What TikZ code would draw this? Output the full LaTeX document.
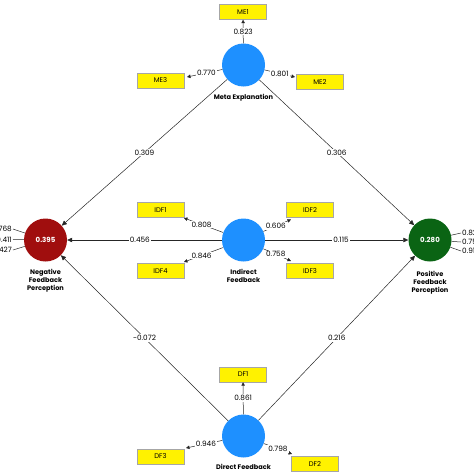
\documentclass[tikz,border=0pt]{standalone}
\usepackage{fontspec}
\setsansfont{Poppins}
\usetikzlibrary{arrows.meta}
\definecolor{cblue}{RGB}{30,144,255}
\definecolor{cred}{RGB}{160,14,14}
\definecolor{cgreen}{RGB}{10,100,20}
\definecolor{cyel}{RGB}{255,242,0}
\tikzset{
  construct/.style={circle,minimum size=43pt,inner sep=0pt,font=\sffamily\bfseries\fontsize{7}{8}\selectfont,text=white},
  ind/.style={draw=black!35,fill=cyel,minimum width=47pt,minimum height=15pt,inner sep=0pt,font=\sffamily\fontsize{6.8}{7}\selectfont},
  cname/.style={font=\sffamily\bfseries\fontsize{6.6}{8}\selectfont,align=center},
  num/.style={fill=white,inner sep=1pt,font=\sffamily\fontsize{7.3}{8}\selectfont},
  path/.style={draw=black!85,line width=0.5pt,-{Triangle[length=5pt,width=4.5pt]}},
  load/.style={draw=black!85,line width=0.5pt,-{Triangle[length=3.5pt,width=3.5pt]}},
  plain/.style={draw=black!85,line width=0.5pt},
}
\begin{document}
\begin{tikzpicture}[x=1pt,y=-1pt]
\useasboundingbox (0,0) rectangle (474,474);
% constructs
\node[construct,fill=cblue] (me) at (243.5,65) {};
\node[construct,fill=cblue] (idf) at (243.5,240) {};
\node[construct,fill=cblue] (df) at (243.5,436) {};
\node[construct,fill=cred] (neg) at (45.5,240) {0.395};
\node[construct,fill=cgreen] (pos) at (430,240) {0.280};
% construct names
\node[cname] (mename) at (243.5,98) {Meta Explanation};
\node[cname] (idfname) at (243.5,275.5) {Indirect\\Feedback};
\node[cname] (dfname) at (243.5,467) {Direct Feedback};
\node[cname] (negname) at (45.5,280.5) {Negative\\Feedback\\Perception};
\node[cname] (posname) at (430,283) {Positive\\Feedback\\Perception};
% indicators
\node[ind] (me1) at (243,12) {ME1};
\node[ind] (me3) at (160.5,80.5) {ME3};
\node[ind] (me2) at (320,82) {ME2};
\node[ind] (idf1) at (160.5,210) {IDF1};
\node[ind] (idf2) at (310,210) {IDF2};
\node[ind] (idf4) at (160.5,271) {IDF4};
\node[ind] (idf3) at (310,271) {IDF3};
\node[ind] (df1) at (243,374.5) {DF1};
\node[ind] (df3) at (160.5,456.5) {DF3};
\node[ind] (df2) at (315,464) {DF2};
% loading end points
\coordinate (e-me3) at (187,77);
\coordinate (e-me2) at (295,77);
\coordinate (e-idf1) at (184,218);
\coordinate (e-idf2) at (291,219.5);
\coordinate (e-idf4) at (184,262);
\coordinate (e-idf3) at (291,261);
\coordinate (e-df3) at (186,448);
\coordinate (e-df2) at (292,454);
% loadings
\draw[load] (me) -- node[num]{0.823} (me1);
\draw[load] (me) -- node[num,pos=0.45]{0.770} (e-me3);
\draw[load] (me) -- node[num,pos=0.5]{0.801} (e-me2);
\draw[load] (idf) -- node[num,pos=0.55]{0.808} (e-idf1);
\draw[load] (idf) -- node[num,pos=0.45]{0.606} (e-idf2);
\draw[load] (idf) -- node[num,pos=0.55]{0.846} (e-idf4);
\draw[load] (idf) -- node[num,pos=0.45]{0.758} (e-idf3);
\draw[load] (df) -- node[num]{0.861} (df1);
\draw[load] (df) -- node[num,pos=0.45]{0.946} (e-df3);
\draw[load] (df) -- node[num,pos=0.5]{0.798} (e-df2);
% paths
\draw[path] (me) -- node[num]{0.309} (neg);
\draw[path] (me) -- node[num]{0.306} (pos);
\draw[path] (idf) -- node[num,pos=0.53]{0.456} (neg);
\draw[path] (idf) -- node[num,pos=0.53]{0.115} (pos);
\draw[path] (df) -- node[num]{-0.072} (neg);
\draw[path] (df) -- node[num]{0.216} (pos);
% outer loadings of endogenous constructs (cut by the frame, as in the reference)
\node[num,anchor=east] (n1) at (13,229) {0.768};
\node[num,anchor=east] (n2) at (13,239.5) {0.411};
\node[num,anchor=east] (n3) at (13,250) {0.427};
\draw[plain] (neg) -- (n1.east);
\draw[plain] (neg) -- (n2.east);
\draw[plain] (neg) -- (n3.east);
\node[num,anchor=west] (p1) at (461,233) {0.823};
\node[num,anchor=west] (p2) at (461,242) {0.756};
\node[num,anchor=west] (p3) at (461,251) {0.912};
\draw[plain] (pos) -- (p1.west);
\draw[plain] (pos) -- (p2.west);
\draw[plain] (pos) -- (p3.west);
\end{tikzpicture}
\end{document}
